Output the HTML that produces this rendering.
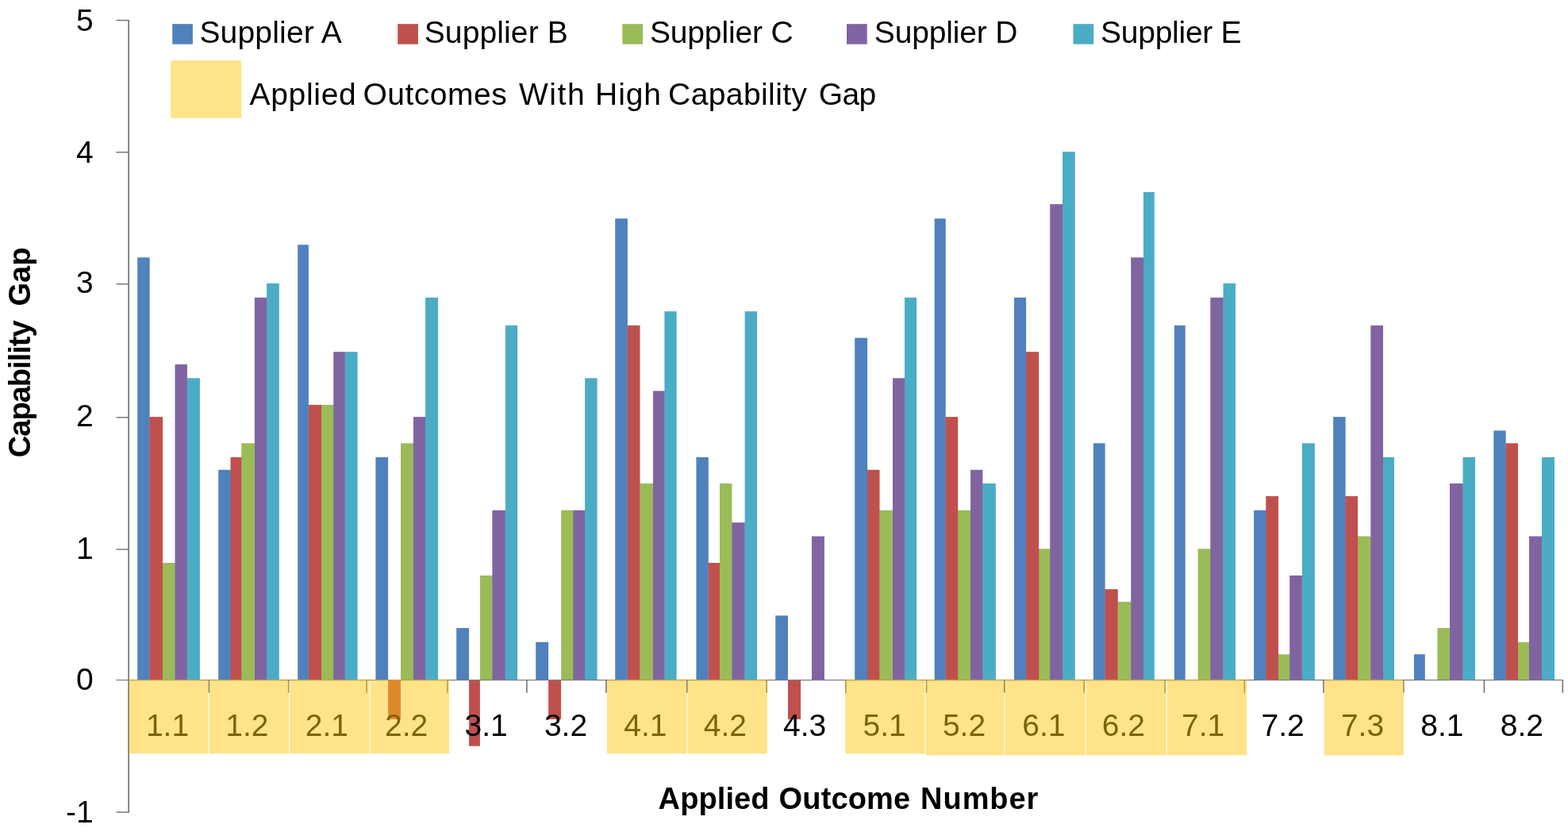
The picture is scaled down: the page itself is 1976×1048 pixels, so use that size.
<!DOCTYPE html>
<html lang="en"><head><meta charset="utf-8"><title>Capability Gap by Applied Outcome Number</title>
<style>
html,body{margin:0;padding:0;background:#fff;}
body{width:1976px;height:1048px;overflow:hidden;}
svg{display:block;}
text{font-family:"Liberation Sans","DejaVu Sans",sans-serif;fill:#000;white-space:pre;}
.n{font-size:39px;}
.b{font-size:38px;font-weight:bold;}
</style></head><body>
<svg width="1976" height="1048" viewBox="0 0 1976 1048">
<rect x="0" y="0" width="1976" height="1048" fill="#fff"/>
<g id="bars">
<rect x="173.20" y="324.30" width="15.40" height="532.40" fill="#4F81BD"/>
<rect x="188.40" y="525.10" width="1.00" height="331.60" fill="#4F81BD"/>
<rect x="188.60" y="525.10" width="16.40" height="331.60" fill="#C0504D"/>
<rect x="204.80" y="709.00" width="1.00" height="147.70" fill="#C0504D"/>
<rect x="205.00" y="709.00" width="15.50" height="147.70" fill="#9BBB59"/>
<rect x="220.30" y="709.00" width="1.00" height="147.70" fill="#9BBB59"/>
<rect x="220.50" y="459.00" width="15.40" height="397.70" fill="#8064A2"/>
<rect x="235.70" y="476.30" width="1.00" height="380.40" fill="#8064A2"/>
<rect x="235.90" y="476.30" width="16.00" height="380.40" fill="#4BACC6"/>
<rect x="275.20" y="591.80" width="15.30" height="264.90" fill="#4F81BD"/>
<rect x="290.30" y="591.80" width="1.00" height="264.90" fill="#4F81BD"/>
<rect x="290.50" y="575.90" width="13.70" height="280.80" fill="#C0504D"/>
<rect x="304.00" y="575.90" width="1.00" height="280.80" fill="#C0504D"/>
<rect x="304.20" y="558.30" width="16.70" height="298.40" fill="#9BBB59"/>
<rect x="320.70" y="558.30" width="1.00" height="298.40" fill="#9BBB59"/>
<rect x="320.90" y="374.80" width="15.20" height="481.90" fill="#8064A2"/>
<rect x="335.90" y="374.80" width="1.00" height="481.90" fill="#8064A2"/>
<rect x="336.10" y="357.00" width="15.70" height="499.70" fill="#4BACC6"/>
<rect x="375.20" y="308.30" width="13.70" height="548.40" fill="#4F81BD"/>
<rect x="388.70" y="509.90" width="1.00" height="346.80" fill="#4F81BD"/>
<rect x="388.90" y="509.90" width="16.10" height="346.80" fill="#C0504D"/>
<rect x="404.80" y="509.90" width="1.00" height="346.80" fill="#C0504D"/>
<rect x="405.00" y="509.90" width="15.20" height="346.80" fill="#9BBB59"/>
<rect x="420.00" y="509.90" width="1.00" height="346.80" fill="#9BBB59"/>
<rect x="420.20" y="443.20" width="14.70" height="413.50" fill="#8064A2"/>
<rect x="434.70" y="443.20" width="1.00" height="413.50" fill="#8064A2"/>
<rect x="434.90" y="443.20" width="15.70" height="413.50" fill="#4BACC6"/>
<rect x="473.40" y="575.90" width="15.70" height="280.80" fill="#4F81BD"/>
<rect x="489.10" y="856.70" width="15.90" height="49.30" fill="#C0504D"/>
<rect x="505.00" y="558.30" width="15.90" height="298.40" fill="#9BBB59"/>
<rect x="520.70" y="558.30" width="1.00" height="298.40" fill="#9BBB59"/>
<rect x="520.90" y="525.10" width="15.20" height="331.60" fill="#8064A2"/>
<rect x="535.90" y="525.10" width="1.00" height="331.60" fill="#8064A2"/>
<rect x="536.10" y="374.80" width="15.90" height="481.90" fill="#4BACC6"/>
<rect x="575.20" y="791.10" width="15.80" height="65.60" fill="#4F81BD"/>
<rect x="591.00" y="856.70" width="13.90" height="83.10" fill="#C0504D"/>
<rect x="604.90" y="724.90" width="15.50" height="131.80" fill="#9BBB59"/>
<rect x="620.20" y="724.90" width="1.00" height="131.80" fill="#9BBB59"/>
<rect x="620.40" y="642.70" width="16.50" height="214.00" fill="#8064A2"/>
<rect x="636.70" y="642.70" width="1.00" height="214.00" fill="#8064A2"/>
<rect x="636.90" y="409.90" width="15.20" height="446.80" fill="#4BACC6"/>
<rect x="675.20" y="808.80" width="15.90" height="47.90" fill="#4F81BD"/>
<rect x="691.10" y="856.70" width="16.00" height="49.30" fill="#C0504D"/>
<rect x="707.10" y="642.70" width="15.20" height="214.00" fill="#9BBB59"/>
<rect x="722.10" y="642.70" width="1.00" height="214.00" fill="#9BBB59"/>
<rect x="722.30" y="642.70" width="14.80" height="214.00" fill="#8064A2"/>
<rect x="736.90" y="642.70" width="1.00" height="214.00" fill="#8064A2"/>
<rect x="737.10" y="476.30" width="15.50" height="380.40" fill="#4BACC6"/>
<rect x="775.20" y="275.30" width="15.70" height="581.40" fill="#4F81BD"/>
<rect x="790.70" y="409.90" width="1.00" height="446.80" fill="#4F81BD"/>
<rect x="790.90" y="409.90" width="15.60" height="446.80" fill="#C0504D"/>
<rect x="806.30" y="609.00" width="1.00" height="247.70" fill="#C0504D"/>
<rect x="806.50" y="609.00" width="16.50" height="247.70" fill="#9BBB59"/>
<rect x="822.80" y="609.00" width="1.00" height="247.70" fill="#9BBB59"/>
<rect x="823.00" y="492.40" width="14.40" height="364.30" fill="#8064A2"/>
<rect x="837.20" y="492.40" width="1.00" height="364.30" fill="#8064A2"/>
<rect x="837.40" y="392.20" width="15.20" height="464.50" fill="#4BACC6"/>
<rect x="877.40" y="575.90" width="15.40" height="280.80" fill="#4F81BD"/>
<rect x="892.60" y="709.00" width="1.00" height="147.70" fill="#4F81BD"/>
<rect x="892.80" y="709.00" width="14.20" height="147.70" fill="#C0504D"/>
<rect x="906.80" y="709.00" width="1.00" height="147.70" fill="#C0504D"/>
<rect x="907.00" y="609.00" width="15.40" height="247.70" fill="#9BBB59"/>
<rect x="922.20" y="658.20" width="1.00" height="198.50" fill="#9BBB59"/>
<rect x="922.40" y="658.20" width="16.20" height="198.50" fill="#8064A2"/>
<rect x="938.40" y="658.20" width="1.00" height="198.50" fill="#8064A2"/>
<rect x="938.60" y="392.20" width="15.50" height="464.50" fill="#4BACC6"/>
<rect x="977.20" y="775.40" width="15.80" height="81.30" fill="#4F81BD"/>
<rect x="993.00" y="856.70" width="16.10" height="49.30" fill="#C0504D"/>
<rect x="1023.00" y="675.50" width="15.90" height="181.20" fill="#8064A2"/>
<rect x="1077.20" y="425.60" width="15.90" height="431.10" fill="#4F81BD"/>
<rect x="1092.90" y="591.80" width="1.00" height="264.90" fill="#4F81BD"/>
<rect x="1093.10" y="591.80" width="15.40" height="264.90" fill="#C0504D"/>
<rect x="1108.30" y="642.70" width="1.00" height="214.00" fill="#C0504D"/>
<rect x="1108.50" y="642.70" width="16.50" height="214.00" fill="#9BBB59"/>
<rect x="1124.80" y="642.70" width="1.00" height="214.00" fill="#9BBB59"/>
<rect x="1125.00" y="476.30" width="15.00" height="380.40" fill="#8064A2"/>
<rect x="1139.80" y="476.30" width="1.00" height="380.40" fill="#8064A2"/>
<rect x="1140.00" y="374.80" width="15.00" height="481.90" fill="#4BACC6"/>
<rect x="1177.70" y="275.30" width="14.00" height="581.40" fill="#4F81BD"/>
<rect x="1191.50" y="525.10" width="1.00" height="331.60" fill="#4F81BD"/>
<rect x="1191.70" y="525.10" width="15.50" height="331.60" fill="#C0504D"/>
<rect x="1207.00" y="642.70" width="1.00" height="214.00" fill="#C0504D"/>
<rect x="1207.20" y="642.70" width="15.80" height="214.00" fill="#9BBB59"/>
<rect x="1222.80" y="642.70" width="1.00" height="214.00" fill="#9BBB59"/>
<rect x="1223.00" y="591.80" width="15.40" height="264.90" fill="#8064A2"/>
<rect x="1238.20" y="609.00" width="1.00" height="247.70" fill="#8064A2"/>
<rect x="1238.40" y="609.00" width="16.50" height="247.70" fill="#4BACC6"/>
<rect x="1278.00" y="374.80" width="15.10" height="481.90" fill="#4F81BD"/>
<rect x="1292.90" y="443.20" width="1.00" height="413.50" fill="#4F81BD"/>
<rect x="1293.10" y="443.20" width="16.10" height="413.50" fill="#C0504D"/>
<rect x="1309.00" y="691.30" width="1.00" height="165.40" fill="#C0504D"/>
<rect x="1309.20" y="691.30" width="14.00" height="165.40" fill="#9BBB59"/>
<rect x="1323.00" y="691.30" width="1.00" height="165.40" fill="#9BBB59"/>
<rect x="1323.20" y="257.20" width="15.80" height="599.50" fill="#8064A2"/>
<rect x="1338.80" y="257.20" width="1.00" height="599.50" fill="#8064A2"/>
<rect x="1339.00" y="191.10" width="15.80" height="665.60" fill="#4BACC6"/>
<rect x="1377.90" y="558.30" width="14.70" height="298.40" fill="#4F81BD"/>
<rect x="1392.40" y="742.20" width="1.00" height="114.50" fill="#4F81BD"/>
<rect x="1392.60" y="742.20" width="16.20" height="114.50" fill="#C0504D"/>
<rect x="1408.60" y="758.10" width="1.00" height="98.60" fill="#C0504D"/>
<rect x="1408.80" y="758.10" width="16.40" height="98.60" fill="#9BBB59"/>
<rect x="1425.00" y="758.10" width="1.00" height="98.60" fill="#9BBB59"/>
<rect x="1425.20" y="324.30" width="15.80" height="532.40" fill="#8064A2"/>
<rect x="1440.80" y="324.30" width="1.00" height="532.40" fill="#8064A2"/>
<rect x="1441.00" y="241.90" width="13.80" height="614.80" fill="#4BACC6"/>
<rect x="1479.90" y="409.90" width="13.80" height="446.80" fill="#4F81BD"/>
<rect x="1509.60" y="691.30" width="15.70" height="165.40" fill="#9BBB59"/>
<rect x="1525.10" y="691.30" width="1.00" height="165.40" fill="#9BBB59"/>
<rect x="1525.30" y="374.80" width="16.20" height="481.90" fill="#8064A2"/>
<rect x="1541.30" y="374.80" width="1.00" height="481.90" fill="#8064A2"/>
<rect x="1541.50" y="357.00" width="15.50" height="499.70" fill="#4BACC6"/>
<rect x="1580.10" y="642.70" width="15.20" height="214.00" fill="#4F81BD"/>
<rect x="1595.10" y="642.70" width="1.00" height="214.00" fill="#4F81BD"/>
<rect x="1595.30" y="625.00" width="15.70" height="231.70" fill="#C0504D"/>
<rect x="1610.80" y="824.20" width="1.00" height="32.50" fill="#C0504D"/>
<rect x="1611.00" y="824.20" width="14.20" height="32.50" fill="#9BBB59"/>
<rect x="1625.00" y="824.20" width="1.00" height="32.50" fill="#9BBB59"/>
<rect x="1625.20" y="724.90" width="15.70" height="131.80" fill="#8064A2"/>
<rect x="1640.70" y="724.90" width="1.00" height="131.80" fill="#8064A2"/>
<rect x="1640.90" y="558.30" width="16.00" height="298.40" fill="#4BACC6"/>
<rect x="1680.20" y="525.10" width="15.40" height="331.60" fill="#4F81BD"/>
<rect x="1695.40" y="625.00" width="1.00" height="231.70" fill="#4F81BD"/>
<rect x="1695.60" y="625.00" width="15.50" height="231.70" fill="#C0504D"/>
<rect x="1710.90" y="675.50" width="1.00" height="181.20" fill="#C0504D"/>
<rect x="1711.10" y="675.50" width="16.20" height="181.20" fill="#9BBB59"/>
<rect x="1727.10" y="675.50" width="1.00" height="181.20" fill="#9BBB59"/>
<rect x="1727.30" y="409.90" width="15.70" height="446.80" fill="#8064A2"/>
<rect x="1742.80" y="575.90" width="1.00" height="280.80" fill="#8064A2"/>
<rect x="1743.00" y="575.90" width="14.00" height="280.80" fill="#4BACC6"/>
<rect x="1782.00" y="824.20" width="13.80" height="32.50" fill="#4F81BD"/>
<rect x="1811.40" y="791.10" width="15.60" height="65.60" fill="#9BBB59"/>
<rect x="1826.80" y="791.10" width="1.00" height="65.60" fill="#9BBB59"/>
<rect x="1827.00" y="609.00" width="16.50" height="247.70" fill="#8064A2"/>
<rect x="1843.30" y="609.00" width="1.00" height="247.70" fill="#8064A2"/>
<rect x="1843.50" y="575.90" width="15.50" height="280.80" fill="#4BACC6"/>
<rect x="1882.30" y="542.40" width="15.40" height="314.30" fill="#4F81BD"/>
<rect x="1897.50" y="558.30" width="1.00" height="298.40" fill="#4F81BD"/>
<rect x="1897.70" y="558.30" width="15.30" height="298.40" fill="#C0504D"/>
<rect x="1912.80" y="808.80" width="1.00" height="47.90" fill="#C0504D"/>
<rect x="1913.00" y="808.80" width="14.00" height="47.90" fill="#9BBB59"/>
<rect x="1926.80" y="808.80" width="1.00" height="47.90" fill="#9BBB59"/>
<rect x="1927.00" y="675.50" width="16.00" height="181.20" fill="#8064A2"/>
<rect x="1942.80" y="675.50" width="1.00" height="181.20" fill="#8064A2"/>
<rect x="1943.00" y="575.90" width="16.00" height="280.80" fill="#4BACC6"/>
</g>
<g id="axes" stroke="#7d7d7d" fill="none">
<line x1="162.1" y1="24.9" x2="162.1" y2="1023.7" stroke-width="1.8"/>
<line x1="146.5" y1="856.7" x2="1969.9" y2="856.7" stroke-width="1.3"/>
<line x1="146.5" y1="1023.0" x2="162.0" y2="1023.0" stroke="#707070" stroke-width="1.4"/>
<line x1="146.5" y1="692.0" x2="162.0" y2="692.0" stroke="#707070" stroke-width="1.4"/>
<line x1="146.5" y1="525.8" x2="162.0" y2="525.8" stroke="#707070" stroke-width="1.4"/>
<line x1="146.5" y1="357.8" x2="162.0" y2="357.8" stroke="#707070" stroke-width="1.4"/>
<line x1="146.5" y1="191.8" x2="162.0" y2="191.8" stroke="#707070" stroke-width="1.4"/>
<line x1="146.5" y1="25.6" x2="162.0" y2="25.6" stroke="#707070" stroke-width="1.4"/>
<line x1="263.4" y1="856.7" x2="263.4" y2="872.7" stroke="#6c6c6c" stroke-width="1.5"/>
<line x1="363.6" y1="856.7" x2="363.6" y2="872.7" stroke="#6c6c6c" stroke-width="1.5"/>
<line x1="462.0" y1="856.7" x2="462.0" y2="872.7" stroke="#6c6c6c" stroke-width="1.5"/>
<line x1="563.9" y1="856.7" x2="563.9" y2="872.7" stroke="#6c6c6c" stroke-width="1.5"/>
<line x1="663.9" y1="856.7" x2="663.9" y2="872.7" stroke="#6c6c6c" stroke-width="1.5"/>
<line x1="763.9" y1="856.7" x2="763.9" y2="872.7" stroke="#6c6c6c" stroke-width="1.5"/>
<line x1="865.8" y1="856.7" x2="865.8" y2="872.7" stroke="#6c6c6c" stroke-width="1.5"/>
<line x1="966.2" y1="856.7" x2="966.2" y2="872.7" stroke="#6c6c6c" stroke-width="1.5"/>
<line x1="1065.8" y1="856.7" x2="1065.8" y2="872.7" stroke="#6c6c6c" stroke-width="1.5"/>
<line x1="1167.6" y1="856.7" x2="1167.6" y2="872.7" stroke="#6c6c6c" stroke-width="1.5"/>
<line x1="1265.8" y1="856.7" x2="1265.8" y2="872.7" stroke="#6c6c6c" stroke-width="1.5"/>
<line x1="1366.2" y1="856.7" x2="1366.2" y2="872.7" stroke="#6c6c6c" stroke-width="1.5"/>
<line x1="1468.0" y1="856.7" x2="1468.0" y2="872.7" stroke="#6c6c6c" stroke-width="1.5"/>
<line x1="1568.3" y1="856.7" x2="1568.3" y2="872.7" stroke="#6c6c6c" stroke-width="1.5"/>
<line x1="1667.9" y1="856.7" x2="1667.9" y2="872.7" stroke="#6c6c6c" stroke-width="1.5"/>
<line x1="1768.8" y1="856.7" x2="1768.8" y2="872.7" stroke="#6c6c6c" stroke-width="1.5"/>
<line x1="1870.4" y1="856.7" x2="1870.4" y2="872.7" stroke="#6c6c6c" stroke-width="1.5"/>
<line x1="1969.3" y1="856.7" x2="1969.3" y2="872.7" stroke="#6c6c6c" stroke-width="1.5"/>
</g>
<g id="ylabels" class="n" text-anchor="end">
<text x="117.6" y="38.8">5</text>
<text x="117.6" y="204.7">4</text>
<text x="117.6" y="368.7">3</text>
<text x="117.6" y="537.0">2</text>
<text x="117.6" y="703.7">1</text>
<text x="117.6" y="869.4">0</text>
<text x="117.6" y="1035.7">-1</text>
</g>
<g id="xlabels" class="n" text-anchor="middle">
<text x="211.0" y="927.2">1.1</text>
<text x="311.4" y="927.2">1.2</text>
<text x="411.8" y="927.2">2.1</text>
<text x="512.2" y="927.2">2.2</text>
<text x="612.6" y="927.2">3.1</text>
<text x="713.0" y="927.2">3.2</text>
<text x="813.4" y="927.2">4.1</text>
<text x="913.8" y="927.2">4.2</text>
<text x="1014.2" y="927.2">4.3</text>
<text x="1114.6" y="927.2">5.1</text>
<text x="1215.0" y="927.2">5.2</text>
<text x="1315.4" y="927.2">6.1</text>
<text x="1415.8" y="927.2">6.2</text>
<text x="1516.2" y="927.2">7.1</text>
<text x="1616.6" y="927.2">7.2</text>
<text x="1717.0" y="927.2">7.3</text>
<text x="1817.4" y="927.2">8.1</text>
<text x="1917.8" y="927.2">8.2</text>
</g>
<g id="highlights" fill="#FFC60C" fill-opacity="0.49">
<rect x="162.70" y="855.9" width="99.80" height="93.4"/>
<rect x="263.60" y="855.9" width="100.65" height="93.4"/>
<rect x="365.35" y="855.9" width="100.25" height="93.4"/>
<rect x="466.70" y="855.9" width="99.40" height="93.4"/>
<rect x="765.00" y="855.9" width="100.40" height="93.4"/>
<rect x="866.50" y="855.9" width="100.30" height="93.4"/>
<rect x="1065.10" y="855.9" width="100.40" height="93.4"/>
<rect x="1166.60" y="855.9" width="98.80" height="95.4"/>
<rect x="1266.50" y="855.9" width="101.05" height="95.4"/>
<rect x="1368.65" y="855.9" width="100.95" height="95.4"/>
<rect x="1470.70" y="855.9" width="100.30" height="95.4"/>
<rect x="1668.90" y="855.9" width="99.90" height="95.5"/>
</g>
<g id="legend">
<rect x="217.2" y="30.2" width="25.7" height="25.5" fill="#4F81BD"/>
<text class="n" x="251.4" y="53.6" style="letter-spacing:0.19px">Supplier A</text>
<rect x="501.2" y="30.2" width="25.7" height="25.5" fill="#C0504D"/>
<text class="n" x="534.7" y="53.6" style="letter-spacing:0.12px">Supplier B</text>
<rect x="784.3" y="30.2" width="25.7" height="25.5" fill="#9BBB59"/>
<text class="n" x="818.9" y="53.6" style="letter-spacing:-0.14px">Supplier C</text>
<rect x="1067.0" y="30.2" width="25.7" height="25.5" fill="#8064A2"/>
<text class="n" x="1101.8" y="53.6" style="letter-spacing:-0.15px">Supplier D</text>
<rect x="1352.5" y="30.2" width="25.7" height="25.5" fill="#4BACC6"/>
<text class="n" x="1387.1" y="53.6" style="letter-spacing:-0.27px">Supplier E</text>
<rect x="215.1" y="76.2" width="89.0" height="72.4" fill="#FFC60C" fill-opacity="0.49"/>
<text class="n" y="131.9"><tspan x="314.5" style="letter-spacing:0.70px">Applied </tspan><tspan x="457.4" style="letter-spacing:0.51px">Outcomes </tspan><tspan x="653.9" style="letter-spacing:1.60px">With </tspan><tspan x="750.1" style="letter-spacing:0.87px">High </tspan><tspan x="842.1" style="letter-spacing:0.40px">Capability </tspan><tspan x="1031.7" style="letter-spacing:-0.60px">Gap</tspan></text>
</g>
<text class="b" y="1018.8"><tspan x="829.6" style="letter-spacing:0.10px">Applied </tspan><tspan x="981.6" style="letter-spacing:0.15px">Outcome </tspan><tspan x="1160.1" style="letter-spacing:0.94px">Number</tspan></text>
<text class="b" transform="translate(37.8 575.2) rotate(-90)" y="0"><tspan x="-1.0" style="letter-spacing:-0.97px">Capability </tspan><tspan x="189.7" style="letter-spacing:0px">Gap</tspan></text>
</svg>
</body></html>
